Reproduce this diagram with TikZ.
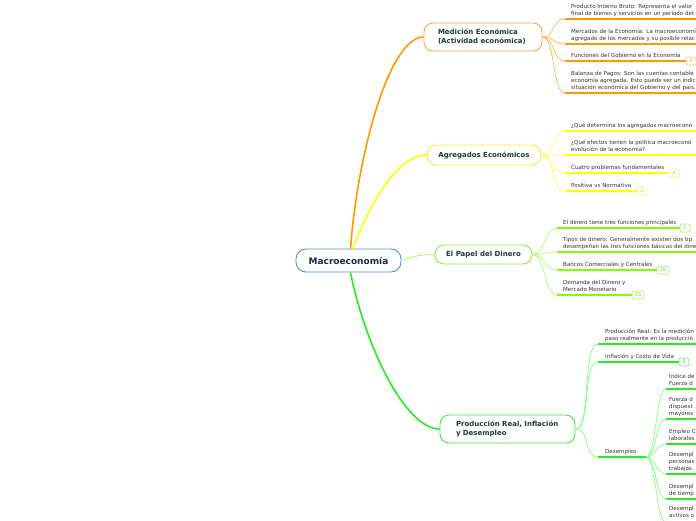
\documentclass[tikz,border=0pt]{standalone}
\usepackage{fontspec}
\setmainfont{DejaVu Sans}
\definecolor{orgL}{HTML}{FF9900}
\definecolor{orgB}{HTML}{FFA33A}
\definecolor{orgC}{HTML}{FFB54D}
\definecolor{orgK}{HTML}{FFC878}
\definecolor{yelL}{HTML}{FFFF00}
\definecolor{yelB}{HTML}{F0F030}
\definecolor{yelC}{HTML}{FFFF50}
\definecolor{yelK}{HTML}{F0F070}
\definecolor{yelT}{HTML}{D8D800}
\definecolor{lgrL}{HTML}{80FF00}
\definecolor{lgrB}{HTML}{88F03A}
\definecolor{lgrC}{HTML}{A8FF70}
\definecolor{lgrK}{HTML}{A8F080}
\definecolor{lgrT}{HTML}{70E020}
\definecolor{grnL}{HTML}{22EE22}
\definecolor{grnB}{HTML}{3CEB3C}
\definecolor{grnC}{HTML}{80FF80}
\definecolor{grnK}{HTML}{70E870}
\definecolor{grnT}{HTML}{22CC22}
\definecolor{rootB}{HTML}{4A90D9}
\definecolor{rootT}{HTML}{1A2A4A}
\definecolor{mainT}{HTML}{1B3D30}
\definecolor{subT}{HTML}{333333}
\tikzset{
  rootbox/.style={draw=rootB, line width=0.9pt, rounded corners=10pt, fill=white,
    minimum width=105pt, minimum height=23pt, inner sep=0pt,
    font=\fontsize{9}{11}\selectfont\bfseries, text=rootT},
  mainbox/.style={draw, line width=0.9pt, rounded corners=9pt, fill=white, inner sep=0pt,
    font=\fontsize{7}{9}\selectfont\bfseries, text=mainT},
  itemtext/.style={anchor=base west, inner sep=0pt, align=left,
    font=\fontsize{5.55}{7}\selectfont, text=subT},
  uline/.style={line width=1.8pt},
  conn/.style={line width=0.7pt},
  mainconn/.style={line width=1.6pt},
  badge/.style={draw, rounded corners=2pt, line width=0.6pt, fill=white,
    minimum width=10pt, minimum height=8pt, inner sep=0pt,
    font=\fontsize{5}{5}\selectfont},
}
\begin{document}
\begin{tikzpicture}[x=1pt,y=-1pt]
\useasboundingbox (0,0) rectangle (696,520);
\clip (0,0) rectangle (696,520);

% ---- main nodes
\node[rootbox] (root) at (348.5,260.5) {Macroeconomía};
\node[mainbox, draw=orgB, minimum width=118pt, minimum height=28pt, text width=90pt, align=left]
  (m1) at (483,37) {Medición Económica\\(Actividad económica)};
\node[mainbox, draw=yelB, minimum width=114pt, minimum height=20pt]
  (m2) at (484,155) {Agregados Económicos};
\node[mainbox, draw=lgrB, minimum width=97pt, minimum height=19pt]
  (m3) at (483.5,254.5) {El Papel del Dinero};
\node[mainbox, draw=grnB, minimum width=135pt, minimum height=28pt, text width=103pt, align=left]
  (m4) at (507.5,429) {Producción Real, Inflación\\y Desempleo};

% ---- main connectors
\draw[mainconn, orgL] ([xshift=2pt]root.north) .. controls (358,150) and (390,37) .. (m1.west);
\draw[mainconn, yelL] ([xshift=4pt]root.north) .. controls (368,210) and (395,155) .. (m2.west);
\draw[line width=0.9pt, lgrC] (root.east) .. controls (415,256) and (420,254.5) .. (m3.west);
\draw[mainconn, grnL] ([xshift=2pt]root.south) .. controls (365,345) and (405,429) .. (m4.west);

% ---- branch 1 (orange)
\coordinate (a1) at (565,19);
\coordinate (a2) at (565,44);
\coordinate (a3) at (565,61);
\coordinate (a4) at (565,93);
\coordinate (a1e) at (700,19);
\coordinate (a2e) at (700,44);
\coordinate (a4e) at (700,93);
\node[badge, draw=orgK, text=orgL] (a3b) at (691,61) {5};
\draw[uline, orgL] (a1) -- (a1e);
\draw[uline, orgL] (a2) -- (a2e);
\draw[uline, orgL] (a3) -- (a3b.west);
\draw[uline, orgL] (a4) -- (a4e);
\node[itemtext] (ta1) at (571,15.6) {Producto Interno Bruto: Representa el valor\\final de bienes y servicios en un periodo det};
\node[itemtext] (ta2) at (571,40.6) {Mercados de la Economía: La macroeconomí\\agregado de los mercados y su posible relac};
\node[itemtext] (ta3) at (571,57.6) {Funciones del Gobierno en la Economía};
\node[itemtext] (ta4) at (571,89.6) {Balanza de Pagos: Son las cuentas contable\\economía agregada. Esto puede ser un indic\\situación económica del Gobierno y del país.};
\foreach \t in {a1,a2,a3,a4}
  \draw[conn, orgC] (m1.east) .. controls +(13,0) and +(-13,0) .. (\t);

% ---- branch 2 (yellow)
\coordinate (b1) at (565,131);
\coordinate (b2) at (565,155);
\coordinate (b3) at (565,173);
\coordinate (b4) at (565,191);
\coordinate (b1e) at (700,131);
\coordinate (b2e) at (700,155);
\node[badge, draw=yelK, text=yelT] (b3b) at (674,173) {4};
\node[badge, draw=yelK, text=yelT] (b4b) at (642,191) {2};
\draw[uline, yelL] (b1) -- (b1e);
\draw[uline, yelL] (b2) -- (b2e);
\draw[uline, yelL] (b3) -- (b3b.west);
\draw[uline, yelL] (b4) -- (b4b.west);
\node[itemtext] (tb1) at (571,127.6) {¿Qué determina los agregados macroeconó};
\node[itemtext] (tb2) at (571,151.6) {¿Qué efectos tienen la política macroeconó\\evolución de la economía?};
\node[itemtext] (tb3) at (571,169.6) {Cuatro problemas fundamentales};
\node[itemtext] (tb4) at (571,187.6) {Positiva vs Normativa};
\foreach \t in {b1,b2,b3,b4}
  \draw[conn, yelC] (m2.east) .. controls +(13,0) and +(-13,0) .. (\t);

% ---- branch 3 (light green)
\coordinate (c1) at (557,228);
\coordinate (c2) at (557,252);
\coordinate (c3) at (557,270);
\coordinate (c4) at (557,295);
\coordinate (c2e) at (700,252);
\node[badge, draw=lgrK, text=lgrT] (c1b) at (685,228) {1};
\node[badge, draw=lgrK, text=lgrT, minimum width=12pt] (c3b) at (663,270) {16};
\node[badge, draw=lgrK, text=lgrT, minimum width=12pt] (c4b) at (638,295) {15};
\draw[uline, lgrL] (c1) -- (c1b.west);
\draw[uline, lgrL] (c2) -- (c2e);
\draw[uline, lgrL] (c3) -- (c3b.west);
\draw[uline, lgrL] (c4) -- (c4b.west);
\node[itemtext] (tc1) at (563,224.6) {El dinero tiene tres funciones principales};
\node[itemtext] (tc2) at (563,248.6) {Tipos de dinero: Generalmente existen dos tip\\desempeñan las tres funciones básicas del dine};
\node[itemtext] (tc3) at (563,266.6) {Bancos Comerciales y Centrales};
\node[itemtext] (tc4) at (563,291.6) {Demanda del Dinero y\\Mercado Monetario};
\foreach \t in {c1,c2,c3,c4}
  \draw[conn, lgrC] (m3.east) .. controls +(13,0) and +(-13,0) .. (\t);

% ---- branch 4 (green)
\coordinate (d1) at (598,344);
\coordinate (d2) at (598,362);
\coordinate (d3) at (598,457);
\coordinate (d1e) at (700,344);
\coordinate (d3e) at (646,457);
\node[badge, draw=grnK, text=grnT] (d2b) at (684,362) {3};
\draw[uline, grnL] (d1) -- (d1e);
\draw[uline, grnL] (d2) -- (d2b.west);
\draw[uline, grnL] (d3) -- (d3e);
\node[itemtext] (td1) at (605,340.6) {Producción Real: Es la medición\\paso realmente en la producció};
\node[itemtext] (td2) at (605,358.6) {Inflación y Costo de Vida};
\node[itemtext] (td3) at (605,453.6) {Desempleo};
\foreach \t in {d1,d2,d3}
  \draw[conn, grnC] (m4.east) .. controls +(16,0) and +(-16,0) .. (\t);

% ---- Desempleo sub-items
\coordinate (e1) at (666,389);
\coordinate (e2) at (666,419);
\coordinate (e3) at (666,444);
\coordinate (e4) at (666,474);
\coordinate (e5) at (666,499);
\coordinate (e6) at (666,522);
\foreach \t in {e1,e2,e3,e4,e5,e6}
  \draw[uline, grnL] (\t) -- ++(40,0);
\node[itemtext] (te1) at (669,385.6) {Índice de\\Fuerza d};
\node[itemtext] (te2) at (669,415.6) {Fuerza d\\dispuest\\mayores};
\node[itemtext] (te3) at (669,440.6) {Empleo C\\laborales};
\node[itemtext] (te4) at (669,470.6) {Desempl\\personas\\trabajos.};
\node[itemtext] (te5) at (669,495.6) {Desempl\\de tiemp};
\node[itemtext] (te6) at (669,517.4) {Desempl\\activos o};
\foreach \t in {e1,e2,e3,e4,e5,e6}
  \draw[conn, grnC] (d3e) .. controls +(10,0) and +(-10,0) .. (\t);
\end{tikzpicture}
\end{document}
